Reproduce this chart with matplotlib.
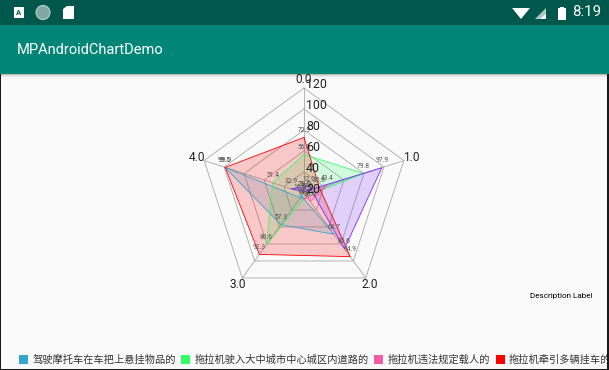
#radar chart inside an android screen
import numpy as np
import matplotlib
matplotlib.use("Agg")
import matplotlib.pyplot as plt
from matplotlib.patches import Rectangle, Polygon, Circle

plt.rcParams['font.family'] = ['Noto Sans CJK SC', 'DejaVu Sans']

axis_labels = ['0.0', '1.0', '2.0', '3.0', '4.0']
ring_values = [20, 40, 60, 80, 100, 120]

names = ['驾驶摩托车在车把上悬挂物品的', '拖拉机驶入大中城市中心城区内道路的',
         '拖拉机违法规定载人的', '拖拉机牵引多辆挂车的']

blue = [14.2, 16.0, 68.7, 57.3, 99.5]
green = [56.8, 79.8, 23.5, 80.6, 51.4]
pink = [13.5, 43.4, 30.0, 18.0, 17.0]
red = [72.9, 35.6, 94.9, 92.3, 99.0]
purple = [21.5, 97.9, 85.6, 12.0, 32.9]

series = [blue, green, pink, red, purple]
colors = ['#33a5d0', '#33ff66', '#f05ca5', '#ff0000', '#7b2bff']

W, H = 609, 370
R_PX = 105.0
CX, CY = 304.0, 193.0
rmin = 20

fig = plt.figure(figsize=(W / 100, H / 100), dpi=100, facecolor='#fafafa')

# screen chrome in pixel coords
ui = fig.add_axes([0, 0, 1, 1])
ui.set_xlim(0, W)
ui.set_ylim(H, 0)
ui.axis('off')
ui.add_patch(Rectangle((0, 0), W, 25, fc='#00574b', ec='none'))
ui.add_patch(Rectangle((0, 25), W, 49, fc='#008577', ec='none'))
for i, a in enumerate([0.25, 0.12, 0.05, 0.02]):
    ui.add_patch(Rectangle((0, 74 + i), W, 1, fc='black', alpha=a, ec='none'))
ui.text(17, 50, 'MPAndroidChartDemo', color='white', fontsize=10.5, family='Roboto',
        va='center', ha='left')
ui.add_patch(Rectangle((14, 7), 10, 11, fc='white', ec='none'))
ui.text(19, 12.5, 'A', color='#00574b', fontsize=5.5, family='Roboto', weight='bold',
        ha='center', va='center')
ui.add_patch(Circle((43, 12.5), 7, fc='#7fa8a2', ec='#c0d0cc', lw=0.8))
ui.add_patch(Polygon([(63, 9), (67, 6), (74, 6), (74, 19), (63, 19)], fc='white', ec='none'))
ui.add_patch(Polygon([(512, 8), (530, 8), (521, 19)], fc='white', ec='none'))
ui.add_patch(Polygon([(546, 8), (546, 19), (535, 19)], fc='#a9c8c2', ec='none'))
ui.add_patch(Polygon([(546, 14), (546, 19), (540, 19)], fc='white', ec='none'))
ui.add_patch(Rectangle((558, 8), 8, 12, fc='white', ec='none'))
ui.add_patch(Rectangle((560, 6.5), 4, 2, fc='white', ec='none'))
ui.text(572, 12.5, '8:19', color='white', fontsize=10.8, family='Roboto', va='center', ha='left')

ui.text(592, 296, 'Description Label', fontsize=5.9, family='Roboto', ha='right',
        va='center', color='black')

# legend, runs off the right edge like the original
text_x = [33, 195, 388, 509]
box_x = [19, 181, 374, 496]
for bx, tx, name, c in zip(box_x, text_x, names, colors[:4]):
    ui.add_patch(Rectangle((bx, 355), 9, 9, fc=c, ec='none'))
    ui.text(tx, 359.5, name, fontsize=7.35, color='#333333', ha='left', va='center')

# dark frame of the screenshot, covers the end of the legend
ui.add_patch(Rectangle((0, 74), 1, H - 74, fc='#1a1a1a', ec='none', zorder=10))
ui.add_patch(Rectangle((607, 74), 2, H - 74, fc='#1a1a1a', ec='none', zorder=10))
ui.add_patch(Rectangle((0, 368.5), W, 1.5, fc='#1a1a1a', ec='none', zorder=10))

# radar axes, data units are value-rmin
ax = fig.add_axes([(CX - R_PX) / W, 1 - (CY + R_PX) / H, 2 * R_PX / W, 2 * R_PX / H])
ax.set_xlim(-100, 100)
ax.set_ylim(-100, 100)
ax.axis('off')
ax.patch.set_alpha(0)

angles = np.deg2rad(np.arange(5) * 72.0)

def to_xy(vals):
    r = np.array(vals, dtype=float) - rmin
    return r * np.sin(angles), r * np.cos(angles)

# web
for rv in ring_values[1:]:
    x, y = to_xy([rv] * 5)
    ax.plot(np.r_[x, x[0]], np.r_[y, y[0]], color='#a8a8a8', lw=0.6, clip_on=False, zorder=1)
for a in angles:
    ax.plot([0, 100 * np.sin(a)], [0, 100 * np.cos(a)], color='#a8a8a8', lw=0.6, clip_on=False, zorder=1)

for vals, c in zip(series, colors):
    x, y = to_xy(vals)
    ax.fill(x, y, color=c, alpha=0.2, lw=0, zorder=2)
    ax.plot(np.r_[x, x[0]], np.r_[y, y[0]], color=c, lw=0.6, zorder=3)
    for xi, yi, v in zip(x, y, vals):
        ax.text(xi, yi + 6.7, '%.1f' % v, fontsize=4.8, color='#555555', ha='center', va='center',
                family='Roboto', zorder=5)

# axis labels around the web
label_off = [(0, 108), (102, 34), (63, -87), (-63, -87), (-102, 34)]
for lab, (lx, ly) in zip(axis_labels, label_off):
    ax.text(lx, ly, lab, fontsize=8.6, color='#222222', ha='center', va='center', family='Roboto',
            zorder=6)

# y labels up the top spoke
for rv in ring_values:
    ax.text(2, rv - rmin + 3, str(rv), fontsize=8.9, color='#222222', ha='left', va='center',
            family='Roboto', zorder=6)

fig.savefig('out.png', dpi=100, facecolor=fig.get_facecolor())
